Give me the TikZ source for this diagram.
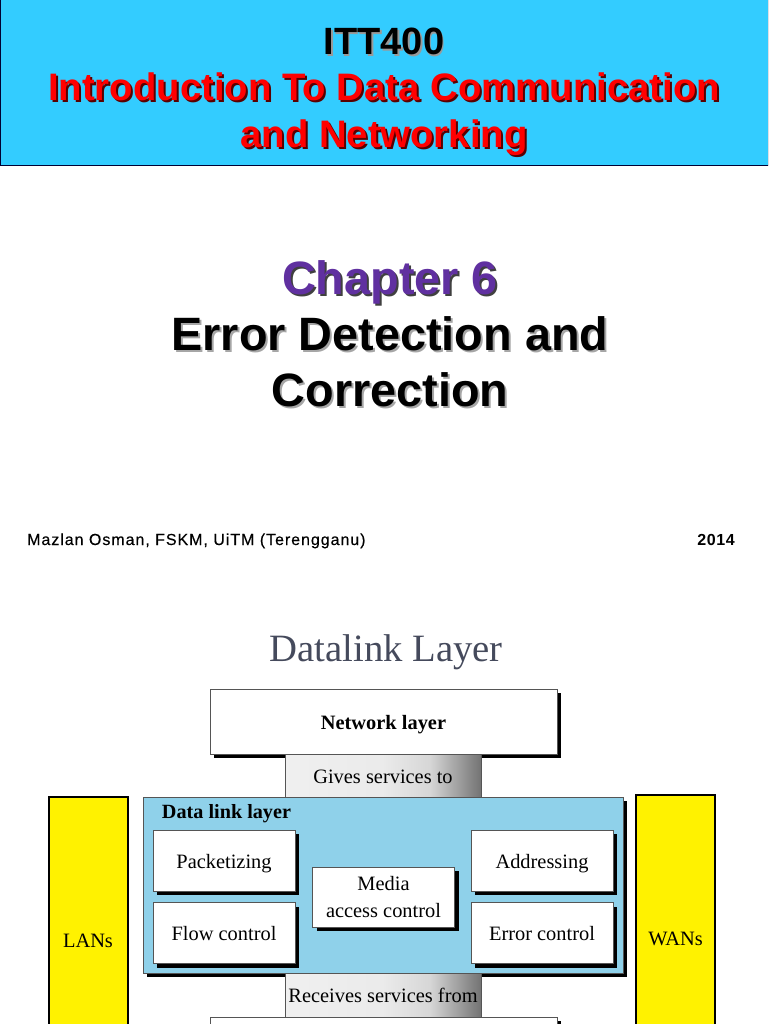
\documentclass[tikz,border=0pt]{standalone}
\usepackage{fontspec}
\setmainfont{Liberation Serif}
\setsansfont{Liberation Sans}
\usetikzlibrary{shadows}

\definecolor{headblue}{HTML}{33CCFF}
\definecolor{linkblue}{HTML}{8FD1EA}
\definecolor{sideyellow}{HTML}{FFF200}
\definecolor{chapterpurple}{HTML}{6030A0}
\definecolor{titleslate}{HTML}{454A5C}
\definecolor{edgegray}{HTML}{555555}

\pgfdeclarehorizontalshading{servicegray}{100bp}{
	color(0bp)=(black!6); color(25bp)=(black!6); color(50bp)=(black!8);
	color(62bp)=(black!16); color(75bp)=(black!55); color(100bp)=(black!55)}

\newcommand{\shadowed}[3]{\leavevmode\rlap{\hspace{#2}\raisebox{-#2}{\textcolor{#3}{#1}}}#1}

\tikzset{
	head/.style={font=\sffamily\bfseries\fontsize{#1}{#1}\selectfont,inner sep=0pt,anchor=base},
	foot/.style={font=\sffamily\fontsize{16}{17}\selectfont\addfontfeature{LetterSpace=6,FakeBold=0.3},inner sep=0pt,anchor=base},
	boxfont/.style={font=\fontsize{20.4}{27}\selectfont},
	boxtext/.style={boxfont,text height=15pt,text depth=0pt},
	shadowbox/.style={draw=edgegray,fill=white,line width=0.8pt,inner sep=0pt,
		drop shadow={shadow xshift=4pt,shadow yshift=-4pt,fill=black,opacity=1}},
	layerbox/.style={shadowbox,boxtext,minimum width=347pt,minimum height=65pt,
		font=\bfseries\fontsize{20.4}{27}\selectfont},
	funcbox/.style={shadowbox,boxtext,minimum width=142pt,minimum height=61pt},
	mediabox/.style={shadowbox,boxfont,minimum width=142pt,minimum height=60pt,align=center},
	servicebox/.style={draw=edgegray,line width=0.8pt,minimum width=196pt,inner sep=0pt,
		shading=servicegray,boxtext},
	sidebox/.style={draw=black,fill=sideyellow,line width=2pt,minimum width=79pt,
		minimum height=286pt,inner sep=0pt,boxtext},
}

\begin{document}
\begin{tikzpicture}[x=1pt,y=-1pt]
	\useasboundingbox (0,0) rectangle (768,1024);
	\clip (0,0) rectangle (768,1024);

	\node[draw=black!80!blue,fill=headblue,line width=1pt,minimum width=768pt,minimum height=166pt,inner sep=0pt] (header) at (384,83) {};
	\node[head=38] (course) at (384,55) {\shadowed{ITT400}{1.5pt}{black!40}};
	\node[head=38.3,text=red] (subjecta) at (384,101) {\shadowed{Introduction To Data Communication}{2pt}{red!35!black}};
	\node[head=38.3,text=red] (subjectb) at (384,147.5) {\shadowed{and Networking}{2pt}{red!35!black}};

	\node[head=46.8,text=chapterpurple] (chapter) at (390,294) {\shadowed{Chapter 6}{2pt}{black!75}};
	\node[head=46.8] (topica) at (390,350) {\shadowed{Error Detection and}{2pt}{black!35}};
	\node[head=46.8] (topicb) at (390,406) {\shadowed{Correction}{2pt}{black!35}};

	\node[foot,anchor=base west] (author) at (27,545) {Mazlan Osman, FSKM, UiTM (Terengganu)};
	\node[foot,anchor=base east,font=\sffamily\bfseries\fontsize{16}{17}\selectfont\addfontfeature{LetterSpace=4}] (year) at (735,545) {2014};

	\node[inner sep=0pt,anchor=base,text=titleslate,font=\fontsize{38.7}{40}\selectfont] (datalink) at (386,661) {Datalink Layer};

	\node[layerbox,anchor=north] (physical) at (383.5,1017) {};
	\node[shadowbox,fill=linkblue,minimum width=480pt,minimum height=176pt] (link) at (383,885) {};
	\node[layerbox] (network) at (383.5,721.5) {Network layer};
	\node[servicebox,minimum height=43pt] (gives) at (383,775.5) {Gives services to};
	\node[servicebox,minimum height=44pt] (receives) at (383,995) {Receives services from};

	\node[inner sep=0pt,boxtext,font=\bfseries\fontsize{20.2}{27}\selectfont] (linktitle) at (226.5,810.5) {Data link layer};

	\node[funcbox] (packet) at (224,860.5) {Packetizing};
	\node[funcbox] (flow) at (224,933) {Flow control};
	\node[mediabox] (media) at (383.5,897) {Media\\access control};
	\node[funcbox] (address) at (542,860.5) {Addressing};
	\node[funcbox] (error) at (542,933) {Error control};

	\node[sidebox] (lans) at (88,940) {LANs};
	\node[sidebox] (wans) at (675.5,938) {WANs};
\end{tikzpicture}
\end{document}
